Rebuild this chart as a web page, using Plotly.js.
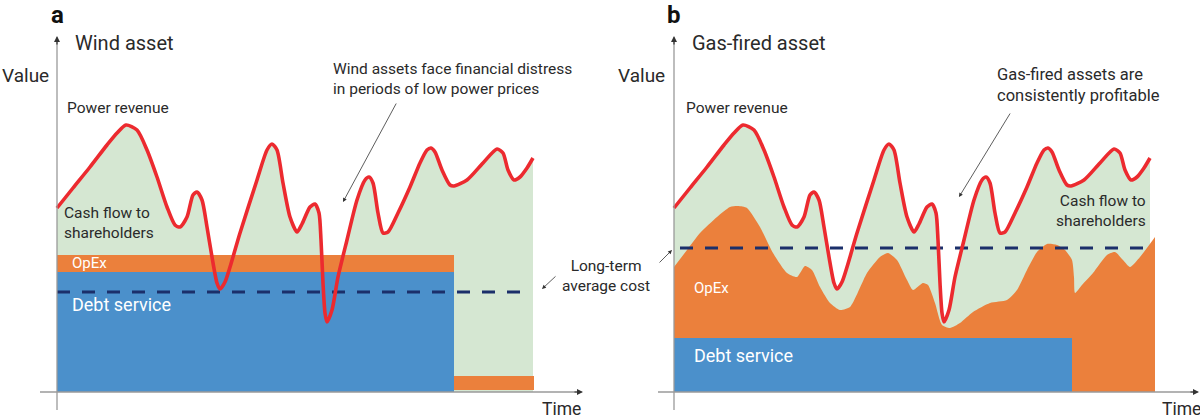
<!DOCTYPE html>
<html><head><meta charset="utf-8">
<script src="https://cdn.plot.ly/plotly-3.0.1.min.js"></script>
<style>html,body{margin:0;padding:0;background:#fff}#chart{width:1200px;height:420px}</style>
</head><body><div id="chart"></div>
<script>
// Schematic: time (arbitrary units) and value (arbitrary units)
const revenueT = [0,16,33,50,60,69,80,90,100,110,118,123,130,136,140,145,150,155,160,163,168,183,200,210,215,220,226,233,240,245,253,258,262,264,266,268,270,275,281,290,300,308,312,316,321,326,331,341,353,363,370,374,378,385,393,397,410,426,440,446,451,457,463,470,476];
const revenueV = [184,204,225,247,259,267,262,242,215,185,167,165,175,197,200,192,165,135,109,103,110,159,212,242,248,242,209,175,160,168,185,188,179,152,109,79,70,82,115,152,192,212,215,209,179,159,160,179,205,229,242,244,240,222,207,206,212,229,243,239,222,212,215,224,234];

const gasOpexT = [0,13,26,43,56,64,73,86,99,113,123,131,138,146,156,166,176,193,206,214,223,233,239,249,254,261,268,276,286,299,316,333,343,353,363,373,383,391,398,400,401,408,419,433,441,449,456,466,481];
const gasOpexV = [125,142,159,175,185,186,184,165,139,119,115,126,122,105,89,82,85,119,135,139,132,112,102,109,107,89,67,64,69,80,89,92,102,122,140,148,147,142,132,115,99,107,119,137,140,132,125,135,155];

const windPhaseStart = [0, 397];
const windPhaseEnd = [397, 477];
const windDebt = [120, 0];
const windOpExBase = [120, 2];
const windOpEx = [17, 14];

const gasDebtStart = [0];
const gasDebtEnd = [398];
const gasDebt = [54];

const windCost = 100;
const windCostSpan = [0, 473];
const gasCost = 144;
const gasCostSpan = [6, 481];

const C = {
  green: '#d5e7d2', orange: '#eb803c', blue: '#4b90cb', red: '#ec2a2f',
  navy: '#1b2f6a', axis: '#9a9a9a', text: '#2a2a2a'
};
const FONT = 'Roboto, "Open Sans", sans-serif';

function rect(x0, x1, y0, y1, color, xa) {
  return {type:'scatter', mode:'lines', x:[x0,x1,x1,x0,x0], y:[y0,y0,y1,y1,y0],
    fill:'toself', fillcolor:color, line:{width:0, color:color}, xaxis:xa, yaxis:'y',
    hoverinfo:'skip', showlegend:false};
}

const traces = [];
// cash flow (area under revenue)
['x','x2'].forEach(xa => traces.push({type:'scatter', mode:'lines', x:revenueT, y:revenueV,
  fill:'tozeroy', fillcolor:C.green, line:{width:0, shape:'spline', smoothing:0.7, color:C.green},
  xaxis:xa, yaxis:'y', hoverinfo:'skip', showlegend:false}));

// wind: debt and opex
for (let i = 0; i < windPhaseStart.length; i++) {
  if (windDebt[i] > 0) traces.push(rect(windPhaseStart[i], windPhaseEnd[i], 0, windDebt[i], C.blue, 'x'));
  traces.push(rect(windPhaseStart[i], windPhaseEnd[i], windOpExBase[i], windOpExBase[i] + windOpEx[i], C.orange, 'x'));
}
// gas: opex area and debt
traces.push({type:'scatter', mode:'lines', x:gasOpexT, y:gasOpexV, fill:'tozeroy', fillcolor:C.orange,
  line:{width:0, shape:'spline', smoothing:0.6, color:C.orange}, xaxis:'x2', yaxis:'y', hoverinfo:'skip', showlegend:false});
for (let i = 0; i < gasDebtStart.length; i++) traces.push(rect(gasDebtStart[i], gasDebtEnd[i], 0, gasDebt[i], C.blue, 'x2'));

// long-term average cost
traces.push({type:'scatter', mode:'lines', x:windCostSpan, y:[windCost, windCost], xaxis:'x', yaxis:'y',
  line:{color:C.navy, width:3, dash:'13px,12px'}, hoverinfo:'skip', showlegend:false});
traces.push({type:'scatter', mode:'lines', x:gasCostSpan, y:[gasCost, gasCost], xaxis:'x2', yaxis:'y',
  line:{color:C.navy, width:3, dash:'13px,12px'}, hoverinfo:'skip', showlegend:false});

// power revenue line
['x','x2'].forEach(xa => traces.push({type:'scatter', mode:'lines', x:revenueT, y:revenueV,
  line:{width:3.6, shape:'spline', smoothing:0.7, color:C.red}, xaxis:xa, yaxis:'y', hoverinfo:'skip', showlegend:false}));

function txt(xa, x, y, text, size, opts) {
  return Object.assign({xref:xa, yref:'y', x:x, y:y, text:text, showarrow:false,
    xanchor:'left', yanchor:'middle', align:'left',
    font:{family:FONT, size:size, color:C.text}}, opts || {});
}
function arrow(xa, x, y, ax, ay, color, w) {
  return {xref:xa, yref:'y', axref:xa, ayref:'y', x:x, y:y, ax:ax, ay:ay, text:'', showarrow:true,
    arrowhead:2, arrowsize:1, arrowwidth:w || 1, arrowcolor:color || '#333', standoff:0};
}

const annotations = [
  // panel a
  txt('x', 0, 377, '<b>a</b>', 24, {xanchor:'center', font:{family:FONT, size:24, color:'#111', weight:900}}),
  txt('x', 16, 349, 'Wind asset', 20),
  txt('x', -57, 317, 'Value', 19),
  txt('x', 8, 284, 'Power revenue', 15.5),
  txt('x', 5, 169, 'Cash flow to<br>shareholders', 15.5),
  txt('x', 13, 129, 'OpEx', 15, {font:{family:FONT, size:15, color:'#fff'}}),
  txt('x', 13, 88, 'Debt service', 18, {font:{family:FONT, size:18, color:'#fff'}}),
  txt('x', 274, 313, 'Wind assets face financial distress<br>in periods of low power prices', 15.5),
  arrow('x', 286, 190, 340, 290, '#333', 0.8),
  txt('x', 483, -17, 'Time', 17.5),
  arrow('x', 0, 356, 0, 346, '#333', 1.2),
  arrow('x', 526, 0, 516, 0, '#333', 1.2),
  arrow('x', 485, 103, 500, 117, '#333', 0.8),
  // middle text
  {xref:'paper', yref:'paper', x:606/1200, y:(420-276)/420, text:'Long-term<br>average cost', showarrow:false,
    xanchor:'center', yanchor:'middle', align:'center', font:{family:FONT, size:15.5, color:C.text}},
  // panel b
  arrow('x2', -2, 142, -16, 128, '#333', 0.8),
  txt('x2', 0, 377, '<b>b</b>', 24, {xanchor:'center', font:{family:FONT, size:24, color:'#111', weight:900}}),
  txt('x2', 16, 349, 'Gas-fired asset', 20),
  txt('x2', -58, 317, 'Value', 19),
  txt('x2', 10, 284, 'Power revenue', 15.5),
  txt('x2', 321, 307, 'Gas-fired assets are<br>consistently profitable', 16.5),
  arrow('x2', 285, 195, 337, 280, '#333', 0.8),
  txt('x2', 474, 181, 'Cash flow to<br>shareholders', 15.5, {xanchor:'right', align:'right'}),
  txt('x2', 18, 104, 'OpEx', 15, {font:{family:FONT, size:15, color:'#fff'}}),
  txt('x2', 18, 37, 'Debt service', 18, {font:{family:FONT, size:18, color:'#fff'}}),
  txt('x2', 486, -17, 'Time', 17.5),
  arrow('x2', 0, 356, 0, 346, '#333', 1.2),
  arrow('x2', 525, 0, 515, 0, '#333', 1.2)
];

const shapes = [
  {type:'line', xref:'x', yref:'y', x0:0, x1:0, y0:-18, y1:350, line:{color:C.axis, width:1.3}},
  {type:'line', xref:'x', yref:'y', x0:-17, x1:520, y0:0, y1:0, line:{color:C.axis, width:1.3}},
  {type:'line', xref:'x2', yref:'y', x0:0, x1:0, y0:-18, y1:350, line:{color:C.axis, width:1.3}},
  {type:'line', xref:'x2', yref:'y', x0:-16, x1:519, y0:0, y1:0, line:{color:C.axis, width:1.3}}
];

const hidden = {showgrid:false, zeroline:false, showticklabels:false, ticks:'', showline:false, fixedrange:true};
const layout = {
  width:1200, height:420, margin:{l:0, r:0, t:0, b:0},
  paper_bgcolor:'#fff', plot_bgcolor:'rgba(0,0,0,0)', showlegend:false,
  xaxis: Object.assign({domain:[0,0.5], range:[-57,543]}, hidden),
  xaxis2: Object.assign({domain:[0.5,1], range:[-74,526]}, hidden),
  yaxis: Object.assign({domain:[0,1], range:[-28,392]}, hidden),
  shapes: shapes, annotations: annotations
};
Plotly.newPlot('chart', traces, layout, {displayModeBar:false, staticPlot:true});
</script></body></html>
